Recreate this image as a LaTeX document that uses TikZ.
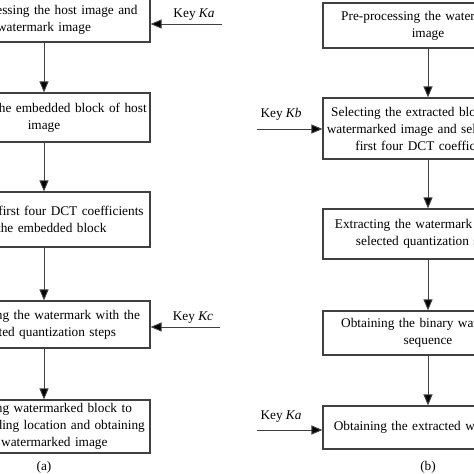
\documentclass[tikz,border=0pt]{standalone}
\usepackage{fontspec}
\setmainfont{Liberation Serif}
\usetikzlibrary{arrows.meta}
\tikzset{
  stepbox/.style={draw=black!75, line width=1.1pt, text width=#1, align=center,
    inner sep=1pt, font=\fontsize{13.3}{17}\selectfont},
  stepbox/.default=206pt,
  flow/.style={draw=black!75, line width=1pt, -{Triangle[length=11pt,width=9pt,fill=black]}},
  keylab/.style={font=\fontsize{13.3}{17}\selectfont}
}
\begin{document}
\begin{tikzpicture}[x=1pt,y=-1pt]
\useasboundingbox (0,0) rectangle (474,474);
\clip (0,0) rectangle (474,474);
% (a) embedding
\node[stepbox=210pt,minimum height=45pt] (a1) at (44,19.5) {Pre-processing the host image and\\watermark image};
\node[stepbox=210pt,minimum height=49pt] (a2) at (44,117.5) {Selecting the embedded block of host\\image};
\node[stepbox=210pt,minimum height=55pt] (a3) at (44,219.5) {Selecting first four DCT coefficients\\of the embedded block};
\node[stepbox=210pt,minimum height=47pt] (a4) at (44,324.5) {Embedding the watermark with the\\selected quantization steps};
\node[stepbox=210pt,minimum height=53pt] (a5) at (44,426.5) {Returning watermarked block to\\corresponding location and obtaining\\the watermarked image};
\draw[flow] (a1) -- (a2);
\draw[flow] (a2) -- (a3);
\draw[flow] (a3) -- (a4);
\draw[flow] (a4) -- (a5);
\coordinate (ka) at (222,24);
\coordinate (kc) at (220,327);
\draw[flow] (ka) -- (ka -| a1.east);
\draw[flow] (kc) -- (kc -| a4.east);
\node[keylab] (kalab) at (194,15) {Key \textit{Ka}};
\node[keylab] (kclab) at (193,318) {Key \textit{Kc}};
\node[keylab] (capa) at (44,467) {(a)};
% (b) extraction
\node[stepbox=208pt,minimum height=45pt] (b1) at (428,25.5) {Pre-processing the watermarked\\image};
\node[stepbox=208pt,minimum height=61pt] (b2) at (428,128.5) {Selecting the extracted block of the\\watermarked image and selecting the\\first four DCT coefficients};
\node[stepbox=208pt,minimum height=50pt] (b3) at (428,234) {Extracting the watermark with the\\selected quantization steps};
\node[stepbox=208pt,minimum height=44pt] (b4) at (428,333) {Obtaining the binary watermark\\sequence};
\node[stepbox=208pt,minimum height=43pt] (b5) at (428,427.5) {Obtaining the extracted watermark};
\draw[flow] (b1) -- (b2);
\draw[flow] (b2) -- (b3);
\draw[flow] (b3) -- (b4);
\draw[flow] (b4) -- (b5);
\coordinate (kb) at (257,129);
\coordinate (kd) at (257,430);
\draw[flow] (kb) -- (kb -| b2.west);
\draw[flow] (kd) -- (kd -| b5.west);
\node[keylab] (kblab) at (281,114) {Key \textit{Kb}};
\node[keylab] (kdlab) at (281,417) {Key \textit{Ka}};
\node[keylab] (capb) at (428,467) {(b)};
\end{tikzpicture}
\end{document}
